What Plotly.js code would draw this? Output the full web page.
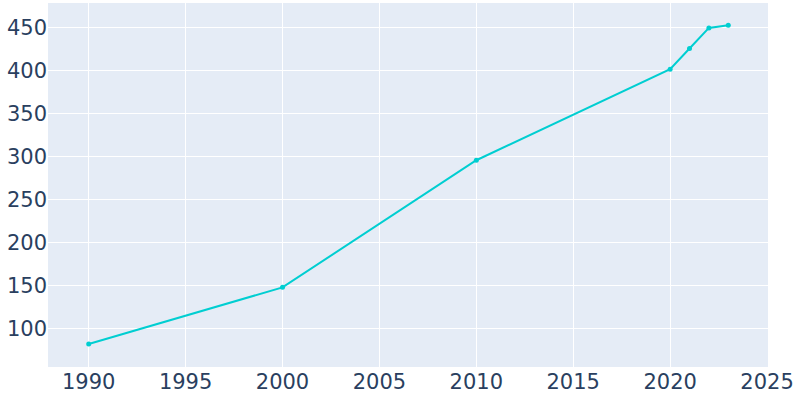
<!DOCTYPE html>
<html><head><meta charset="utf-8">
<script src="https://cdn.plot.ly/plotly-3.0.1.min.js"></script>
<style>html,body{margin:0;padding:0;background:#fff}</style>
</head><body>
<div id="chart" style="width:800px;height:400px"></div>
<script>
const years = [1990, 2000, 2010, 2020, 2021, 2022, 2023];
const population = [82, 148, 296, 402, 426, 450, 453];

Plotly.newPlot('chart', [{
  x: years, y: population, type: 'scatter', mode: 'lines+markers',
  line: {color: '#00CED1', width: 2}, marker: {color: '#00CED1', size: 5}
}], {
  width: 800, height: 400,
  margin: {l: 48, r: 32, t: 3, b: 33},
  paper_bgcolor: '#fff', plot_bgcolor: '#E5ECF6',
  font: {family: 'DejaVu Sans, sans-serif', size: 21, color: '#2a3f5f'},
  showlegend: false,
  xaxis: {range: [1987.9, 2025.05], dtick: 5, gridcolor: '#fff', zeroline: false, ticks: '', showline: false, automargin: false},
  yaxis: {range: [55.3, 479], dtick: 50, gridcolor: '#fff', zeroline: false, ticks: '', showline: false, automargin: false}
}, {displayModeBar: false});
</script>
</body></html>
